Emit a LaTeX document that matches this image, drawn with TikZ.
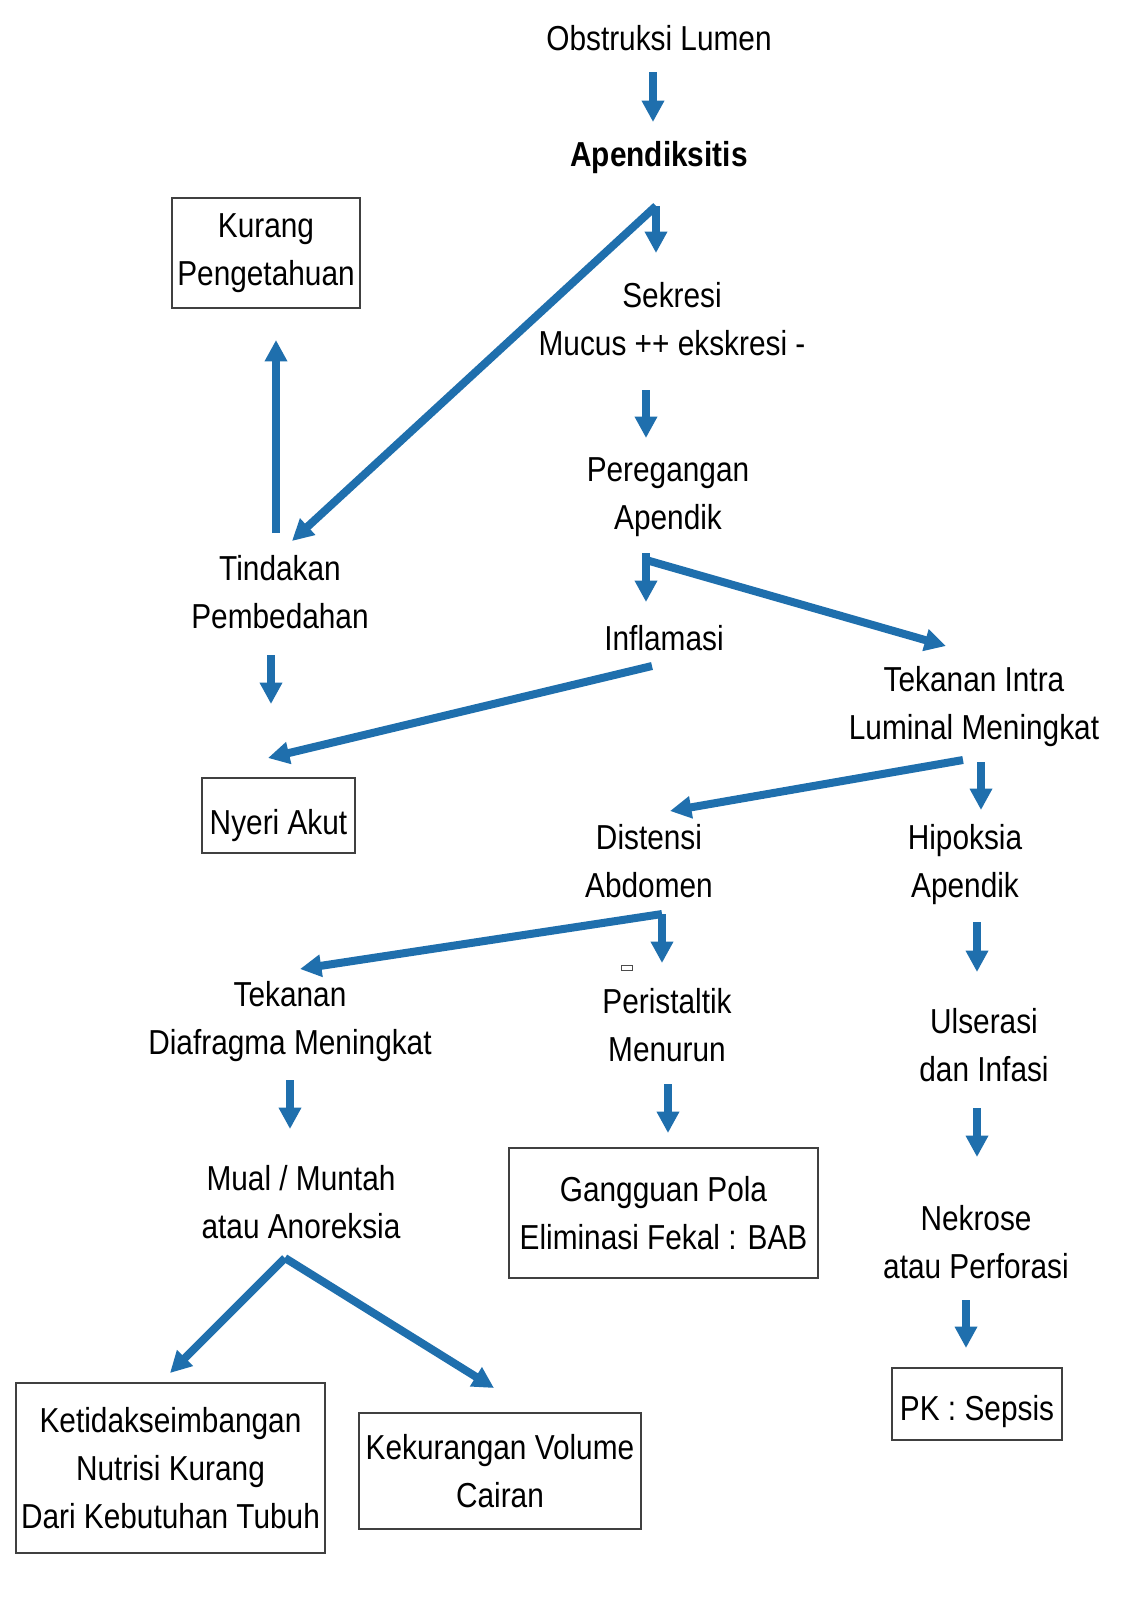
\documentclass[tikz,border=0pt]{standalone}
\usepackage{fontspec}
\setmainfont{Liberation Sans}[FakeStretch=0.86]
\usetikzlibrary{arrows.meta}
\definecolor{arr}{RGB}{31,111,173}
\begin{document}
\begin{tikzpicture}[x=0.75pt,y=-0.75pt,
  txt/.style={align=center,inner sep=0pt,font=\fontsize{26}{36}\selectfont},
  box/.style={txt,draw=black!75,line width=0.8pt},
  flow/.style={draw=arr,line width=6pt,-{Triangle[length=16pt,width=16pt]}}]
\useasboundingbox (0,0) rectangle (1143,1600);
\fill[white] (0,0) rectangle (1143,1600);
% text nodes
\node[txt] (obs) at (659,38) {Obstruksi Lumen};
\node[txt,font=\fontsize{26}{36}\selectfont\bfseries] (apd) at (659,158) {Apendiksitis};
\node[txt] (sek) at (672,319) {Sekresi\\Mucus ++ ekskresi -};
\node[txt] (per) at (668,497) {Peregangan\\Apendik};
\node[txt] (inf) at (664,638) {Inflamasi};
\node[txt] (tin) at (280,592) {Tindakan\\Pembedahan};
\node[txt] (tek) at (974,707) {Tekanan Intra\\Luminal Meningkat};
\node[txt] (dis) at (649,861) {Distensi\\Abdomen};
\node[txt] (hip) at (965,865) {Hipoksia\\Apendik};
\node[txt] (dia) at (290,1022) {Tekanan\\Diafragma Meningkat};
\node[txt] (pst) at (667,1025) {Peristaltik\\Menurun};
\node[txt] (mual) at (301,1202) {Mual / Muntah\\atau Anoreksia};
\node[txt] (ulc) at (984,1045) {Ulserasi\\dan Infasi};
\node[txt] (nek) at (976,1242) {Nekrose\\atau Perforasi};
% boxes
\node[box,minimum width=141pt,minimum height=82.5pt] (kp) at (266,253) {Kurang\\Pengetahuan};
\node[box,minimum width=114.75pt,minimum height=56.25pt,text height=28pt,text depth=0pt] (nye) at (278.5,815.5) {Nyeri Akut};
\node[box,minimum width=231.75pt,minimum height=97.5pt] (gan) at (663.5,1213) {Gangguan Pola\\Eliminasi Fekal : BAB};
\node[box,minimum width=231.75pt,minimum height=127.5pt] (ket) at (170.5,1468) {Ketidakseimbangan\\Nutrisi Kurang\\Dari Kebutuhan Tubuh};
\node[box,minimum width=211.5pt,minimum height=87pt] (kek) at (500,1471) {Kekurangan Volume\\Cairan};
\node[box,minimum width=127.5pt,minimum height=54pt,text height=25pt,text depth=0pt] (pk) at (977,1404) {PK : Sepsis};
\node[draw=black!70,line width=0.6pt,minimum width=8.25pt,minimum height=3.75pt,inner sep=0pt] (tiny) at (626.5,967.5) {};
% connector end points
\coordinate (a1s) at (653,72);   \coordinate (a1e) at (653,122);
\coordinate (a2s) at (656,206);  \coordinate (a2e) at (656,253);
\coordinate (a3e) at (292,541);
\coordinate (a4s) at (646,390);  \coordinate (a4e) at (646,438);
\coordinate (a5s) at (646,553);  \coordinate (a5e) at (646,602);
\coordinate (a6s) at (646,560);  \coordinate (a6e) at (946,646);
\coordinate (a7s) at (652,666);  \coordinate (a7e) at (268,758);
\coordinate (a8s) at (963,760);  \coordinate (a8e) at (670,811);
\coordinate (a9s) at (981,762);  \coordinate (a9e) at (981,810);
\coordinate (a10s) at (662,914); \coordinate (a10e) at (300,969);
\coordinate (a11e) at (662,963);
\coordinate (a12s) at (290,1080); \coordinate (a12e) at (290,1129);
\coordinate (a13s) at (668,1084); \coordinate (a13e) at (668,1133);
\coordinate (a14s) at (285,1258); \coordinate (a14e) at (170,1373);
\coordinate (a15e) at (494,1388);
\coordinate (a16s) at (977,922);  \coordinate (a16e) at (977,972);
\coordinate (a17s) at (977,1108); \coordinate (a17e) at (977,1157);
\coordinate (a18s) at (966,1300); \coordinate (a18e) at (966,1348);
\coordinate (a19s) at (276,533);  \coordinate (a19e) at (276,340);
\coordinate (a20s) at (271,655);  \coordinate (a20e) at (271,704);
% connectors
\draw[flow] (a1s) -- (a1e);
\draw[flow] (a2s) -- (a3e);
\draw[flow] (a2s) -- (a2e);
\draw[flow] (a4s) -- (a4e);
\draw[flow] (a6s) -- (a6e);
\draw[flow] (a5s) -- (a5e);
\draw[flow] (a7s) -- (a7e);
\draw[flow] (a8s) -- (a8e);
\draw[flow] (a9s) -- (a9e);
\draw[flow] (a10s) -- (a10e);
\draw[flow] (a10s) -- (a11e);
\draw[flow] (a12s) -- (a12e);
\draw[flow] (a13s) -- (a13e);
\draw[flow] (a14s) -- (a14e);
\draw[flow] (a14s) -- (a15e);
\draw[flow] (a16s) -- (a16e);
\draw[flow] (a17s) -- (a17e);
\draw[flow] (a18s) -- (a18e);
\draw[flow] (a19s) -- (a19e);
\draw[flow] (a20s) -- (a20e);
\end{tikzpicture}
\end{document}
